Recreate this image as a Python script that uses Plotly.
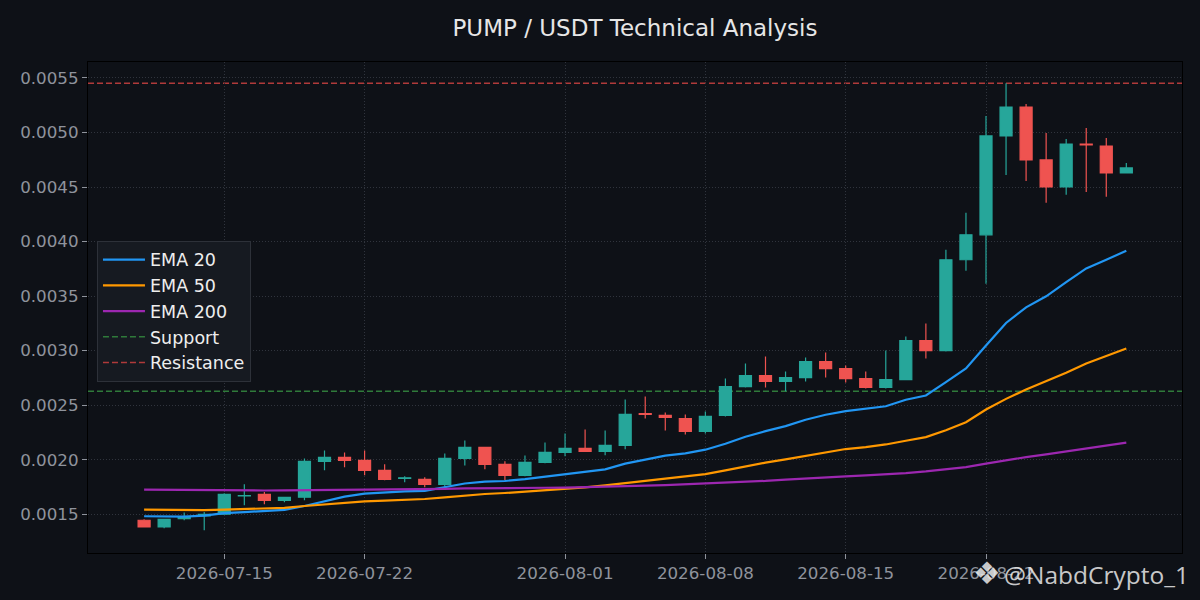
import pandas as pd
import plotly.graph_objects as go

# daily candles, 2026-07-11 .. 2026-08-29
dates = pd.date_range("2026-07-11", "2026-08-29", freq="D")

opens = [0.001445, 0.001384, 0.001461, 0.001485, 0.001500, 0.001668, 0.001683, 0.001628, 0.001656, 0.001985,
         0.002021, 0.001994, 0.001903, 0.001829, 0.001820, 0.001775, 0.002012, 0.002113, 0.001958, 0.001857,
         0.001976, 0.002067, 0.002104, 0.002076, 0.002131, 0.002424, 0.002406, 0.002378, 0.002260, 0.002406,
         0.002671, 0.002772, 0.002717, 0.002753, 0.002900, 0.002836, 0.002744, 0.002662, 0.002735, 0.003092,
         0.003001, 0.003833, 0.004062, 0.004968, 0.005233, 0.004748, 0.004500, 0.004894, 0.004876, 0.004629]
highs = [0.001454, 0.001460, 0.001516, 0.001521, 0.001692, 0.001775, 0.001704, 0.001656, 0.002012, 0.002085,
         0.002067, 0.002085, 0.001958, 0.001848, 0.001839, 0.002058, 0.002177, 0.002113, 0.001985, 0.002039,
         0.002159, 0.002241, 0.002278, 0.002269, 0.002552, 0.002580, 0.002433, 0.002415, 0.002442, 0.002744,
         0.002882, 0.002946, 0.002808, 0.002937, 0.002982, 0.002863, 0.002808, 0.003001, 0.003129, 0.003248,
         0.003925, 0.004263, 0.005151, 0.005452, 0.005260, 0.004995, 0.004940, 0.005041, 0.004949, 0.004721]
lows = [0.001384, 0.001372, 0.001445, 0.001354, 0.001500, 0.001582, 0.001592, 0.001610, 0.001628, 0.001903,
        0.001930, 0.001857, 0.001811, 0.001793, 0.001747, 0.001747, 0.001948, 0.001912, 0.001811, 0.001848,
        0.001967, 0.002031, 0.002076, 0.002040, 0.002095, 0.002378, 0.002269, 0.002232, 0.002241, 0.002397,
        0.002662, 0.002662, 0.002628, 0.002717, 0.002753, 0.002708, 0.002653, 0.002653, 0.002735, 0.002927,
        0.002992, 0.003733, 0.003614, 0.004611, 0.004556, 0.004355, 0.004428, 0.004455, 0.004410, 0.004629]
closes = [0.001384, 0.001454, 0.001479, 0.001500, 0.001683, 0.001672, 0.001628, 0.001656, 0.001985, 0.002021,
          0.001994, 0.001903, 0.001820, 0.001835, 0.001775, 0.002012, 0.002113, 0.001958, 0.001857, 0.001976,
          0.002067, 0.002104, 0.002076, 0.002131, 0.002415, 0.002415, 0.002388, 0.002260, 0.002397, 0.002671,
          0.002772, 0.002717, 0.002753, 0.002900, 0.002836, 0.002744, 0.002662, 0.002735, 0.003092, 0.003001,
          0.003833, 0.004062, 0.004968, 0.005233, 0.004748, 0.004500, 0.004894, 0.004885, 0.004629, 0.004675]

ema20 = [0.001482, 0.001479, 0.001478, 0.001488, 0.001510, 0.001520, 0.001530, 0.001540, 0.001576, 0.001622,
         0.001662, 0.001689, 0.001700, 0.001710, 0.001714, 0.001747, 0.001782, 0.001800, 0.001805, 0.001823,
         0.001845, 0.001872, 0.001891, 0.001912, 0.001964, 0.002003, 0.002037, 0.002058, 0.002092, 0.002147,
         0.002211, 0.002262, 0.002308, 0.002366, 0.002412, 0.002445, 0.002464, 0.002490, 0.002550, 0.002589,
         0.002711, 0.002836, 0.003047, 0.003254, 0.003397, 0.003498, 0.003629, 0.003754, 0.003833, 0.003916]
ema50 = [0.001543, 0.001540, 0.001537, 0.001538, 0.001543, 0.001547, 0.001552, 0.001558, 0.001576, 0.001592,
         0.001607, 0.001619, 0.001626, 0.001632, 0.001640, 0.001654, 0.001672, 0.001686, 0.001695, 0.001707,
         0.001720, 0.001735, 0.001747, 0.001765, 0.001786, 0.001808, 0.001828, 0.001845, 0.001868, 0.001903,
         0.001941, 0.001973, 0.002003, 0.002036, 0.002070, 0.002098, 0.002116, 0.002140, 0.002174, 0.002207,
         0.002271, 0.002344, 0.002460, 0.002558, 0.002644, 0.002717, 0.002797, 0.002882, 0.002948, 0.003019]
ema200 = [0.001726, 0.001724, 0.001722, 0.001720, 0.001718, 0.001718, 0.001718, 0.001719, 0.001720, 0.001721,
          0.001722, 0.001724, 0.001726, 0.001728, 0.001730, 0.001733, 0.001737, 0.001740, 0.001741, 0.001742,
          0.001743, 0.001745, 0.001748, 0.001752, 0.001757, 0.001762, 0.001768, 0.001775, 0.001783, 0.001790,
          0.001798, 0.001806, 0.001818, 0.001830, 0.001839, 0.001848, 0.001857, 0.001866, 0.001878, 0.001893,
          0.001912, 0.001933, 0.001964, 0.001997, 0.002024, 0.002049, 0.002076, 0.002104, 0.002129, 0.002156]

support = 0.002628
resistance = 0.005452

y_ticks = [0.0015, 0.0020, 0.0025, 0.0030, 0.0035, 0.0040, 0.0045, 0.0050, 0.0055]
x_ticks = ["2026-07-15", "2026-07-22", "2026-08-01", "2026-08-08", "2026-08-15", "2026-08-22"]

BG = "#0e1117"
GRID = "#30343d"
TICK = "#8f939c"
FONT = "DejaVu Sans"

fig = go.Figure()

fig.add_trace(go.Candlestick(
    x=dates, open=opens, high=highs, low=lows, close=closes,
    increasing=dict(line=dict(color="#26a69a", width=1.2), fillcolor="#26a69a"),
    decreasing=dict(line=dict(color="#ef5350", width=1.2), fillcolor="#ef5350"),
    whiskerwidth=0, showlegend=False, name="PUMP",
))

for vals, name, color in [(ema20, "EMA 20", "#2196f3"),
                          (ema50, "EMA 50", "#ff9800"),
                          (ema200, "EMA 200", "#9c27b0")]:
    fig.add_trace(go.Scatter(x=dates, y=vals, mode="lines", name=name,
                             line=dict(color=color, width=2.2)))

# horizontal levels across the whole axes
fig.add_shape(type="line", xref="paper", x0=0, x1=1, yref="y", y0=support, y1=support,
              line=dict(color="#2f7a3a", width=1.5, dash="6px,3px"),
              showlegend=True, name="Support", layer="below")
fig.add_shape(type="line", xref="paper", x0=0, x1=1, yref="y", y0=resistance, y1=resistance,
              line=dict(color="#b03a3a", width=1.5, dash="6px,3px"),
              showlegend=True, name="Resistance", layer="below")

# watermark
fig.add_annotation(xref="paper", yref="paper", x=(987 - 88) / 1094, y=(553 - 573) / 491,
                   text="❖", showarrow=False, xanchor="center", yanchor="middle",
                   font=dict(family=FONT, size=31, color="rgba(235,235,235,0.85)"))
fig.add_annotation(xref="paper", yref="paper", x=(1002 - 88) / 1094, y=(553 - 574) / 491,
                   text="@NabdCrypto_1", showarrow=False, xanchor="left", yanchor="middle",
                   font=dict(family="Open Sans", size=24.5, color="rgba(235,235,235,0.85)"))

fig.update_layout(
    width=1200, height=600,
    paper_bgcolor=BG, plot_bgcolor=BG,
    margin=dict(l=88, r=18, t=62, b=47),
    font=dict(family=FONT, size=16.7, color=TICK),
    boxgap=0.2, boxgroupgap=0.25,
    title=dict(text="PUMP / USDT Technical Analysis", x=635 / 1200, xanchor="center",
               y=1 - 28 / 600, yanchor="middle",
               font=dict(family=FONT, size=23, color="#e6e6e6")),
    legend=dict(x=0.0082, y=0.636, xanchor="left", yanchor="top", itemwidth=42,
                bgcolor="#161a21", bordercolor="#2d3139", borderwidth=1,
                font=dict(family=FONT, size=17.5, color="#eeeeee")),
    xaxis=dict(range=["2026-07-08 04:50", "2026-08-31 18:40"], rangeslider=dict(visible=False),
               tickvals=x_ticks, ticktext=x_ticks, ticks="outside", ticklen=5, tickcolor=TICK,
               showgrid=True, gridcolor=GRID, griddash="1px,2px", gridwidth=1,
               showline=True, linecolor="#000000", linewidth=1.2, mirror=True, zeroline=False),
    yaxis=dict(range=[0.001145, 0.005646], tickvals=y_ticks, tickformat=".4f",
               ticks="outside", ticklen=5, tickcolor=TICK,
               showgrid=True, gridcolor=GRID, griddash="1px,2px", gridwidth=1,
               showline=True, linecolor="#000000", linewidth=1.2, mirror=True, zeroline=False),
)

fig.write_html("out.html", config={"displayModeBar": False},
               post_script="document.body.style.margin='0';document.body.style.background='#0e1117';")
